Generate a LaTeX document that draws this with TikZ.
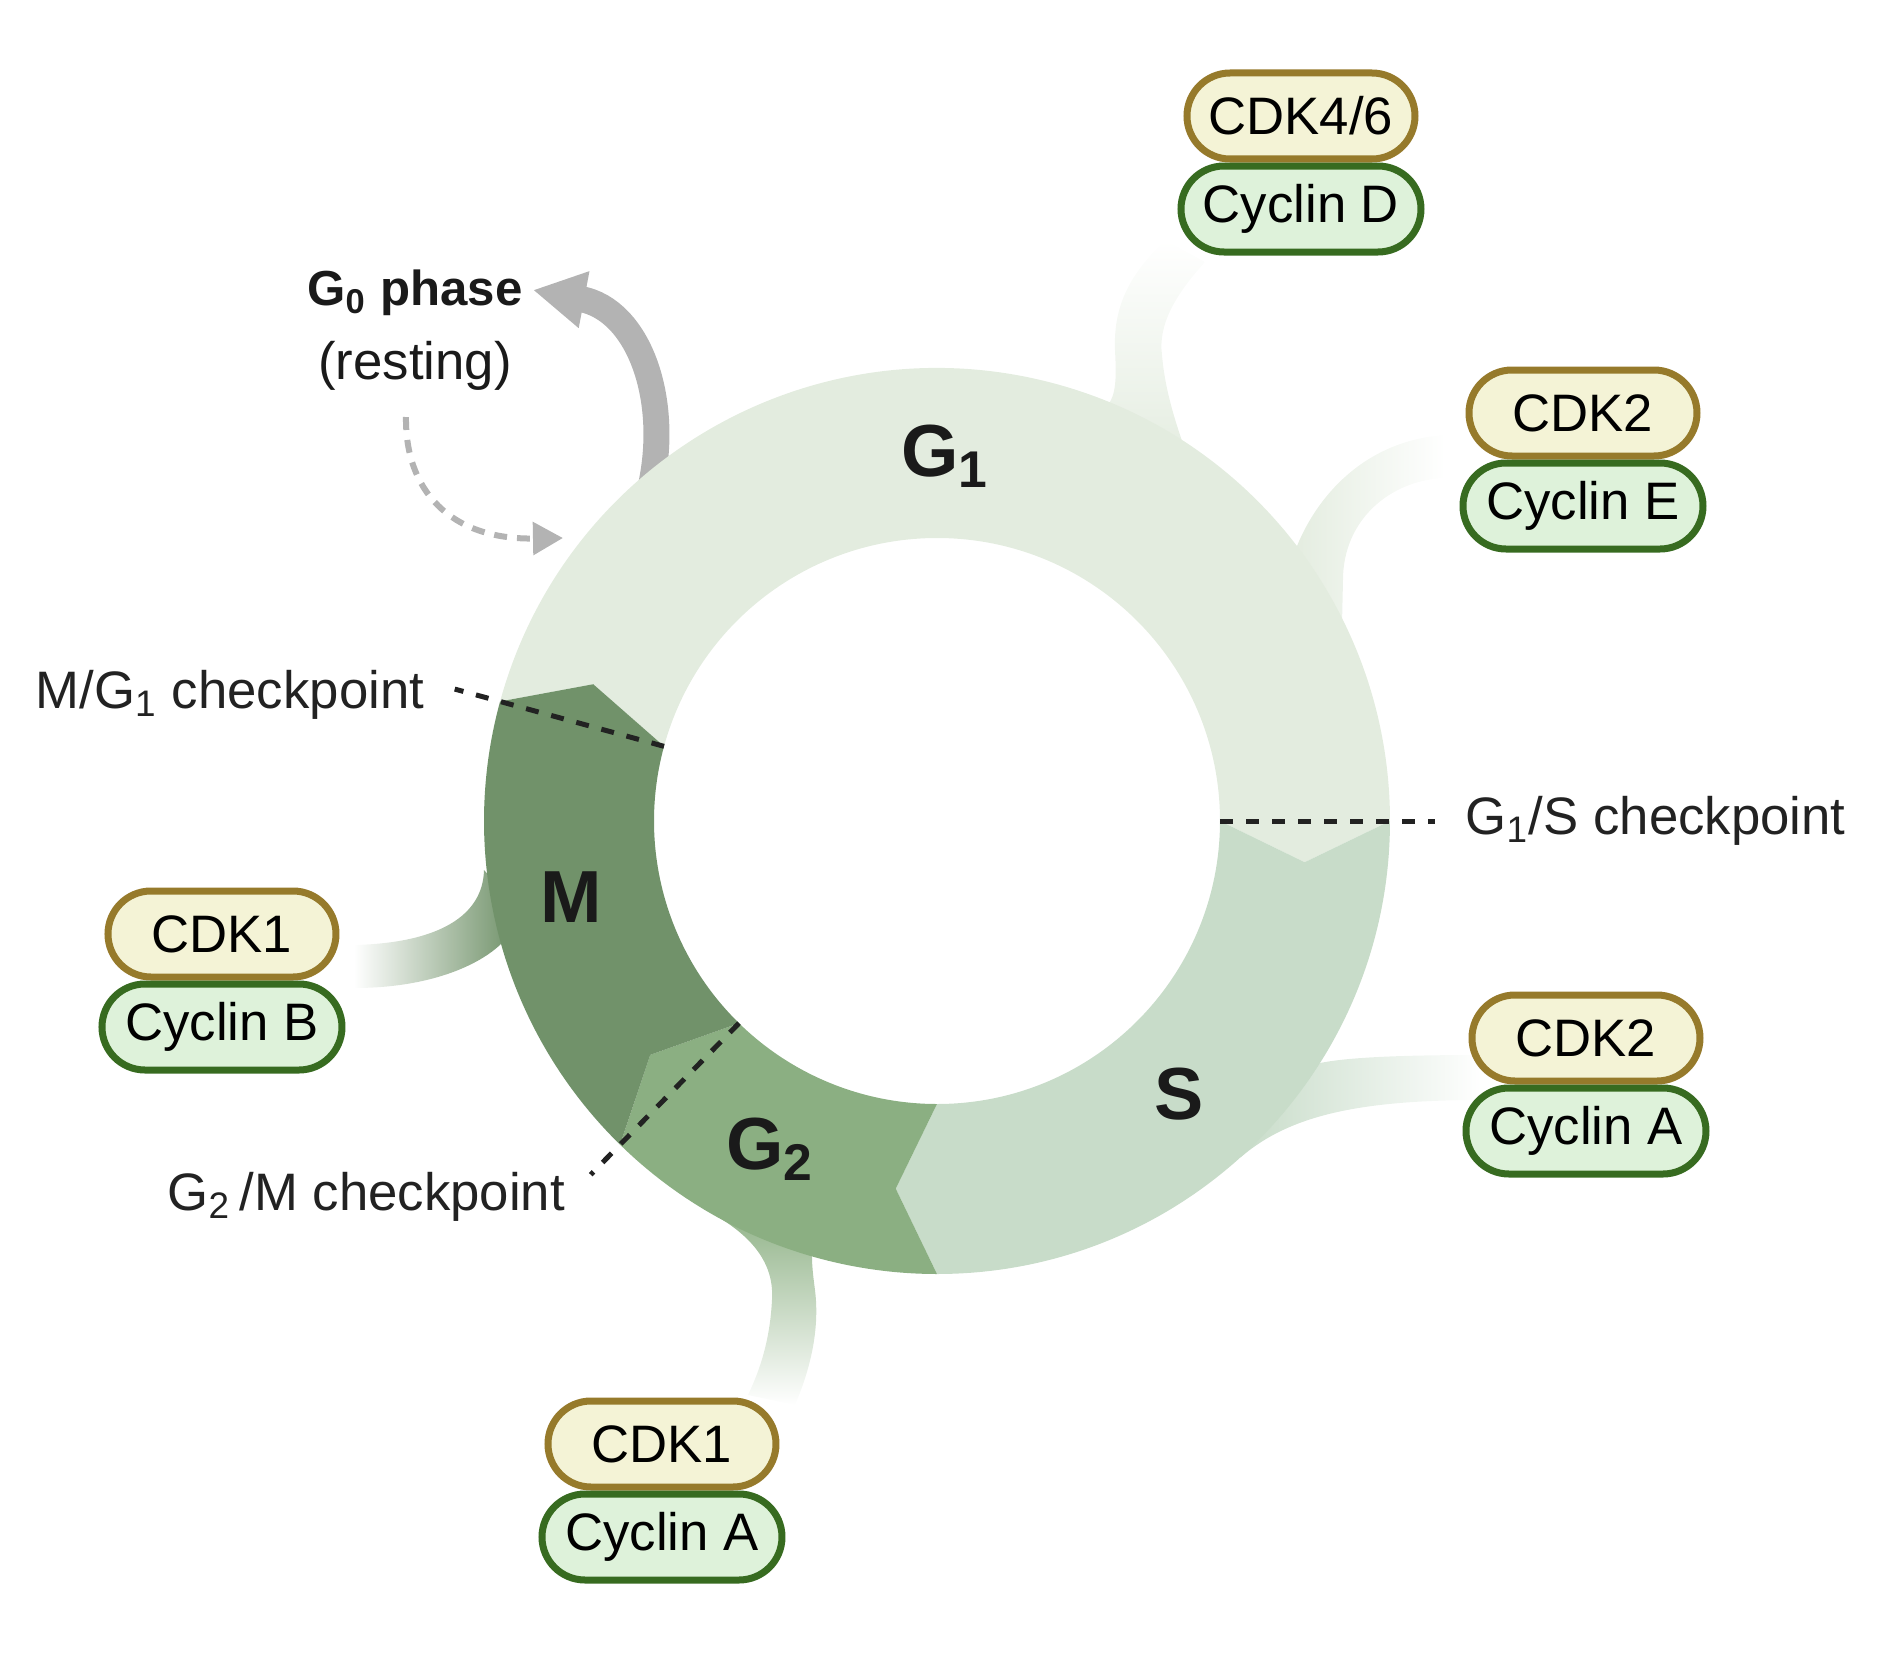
\documentclass[tikz,border=0pt]{standalone}
\usepackage{fontspec}
\setmainfont{Liberation Sans}
\usetikzlibrary{arrows.meta, positioning}

\definecolor{gonecol}{HTML}{E3ECDF}
\definecolor{scol}{HTML}{C8DCC9}
\definecolor{gtwocol}{HTML}{8BAF82}
\definecolor{mcol}{HTML}{71926A}
\definecolor{arrowgray}{HTML}{B3B3B3}
\definecolor{cdkfill}{HTML}{F4F3D6}
\definecolor{cdkline}{HTML}{967A2B}
\definecolor{cycfill}{HTML}{DEF2DA}
\definecolor{cycline}{HTML}{376B20}
\definecolor{labelcol}{HTML}{1A1A1A}
\definecolor{ckptcol}{HTML}{222222}

\begin{document}
\begin{tikzpicture}[
  cdkbox/.style={rectangle, draw=cdkline, fill=cdkfill, line width=0.07cm,
                 rounded corners=0.43cm, minimum width=2.28cm, minimum height=0.86cm,
                 inner sep=0pt, font=\fontsize{15}{18}\selectfont},
  cycbox/.style={cdkbox, draw=cycline, fill=cycfill, minimum width=2.40cm},
  phase/.style={font=\fontsize{21}{25}\selectfont\bfseries, text=labelcol},
  ckpt/.style={font=\fontsize{15}{18}\selectfont, text=ckptcol, inner sep=0pt},
  ckline/.style={draw=ckptcol, line width=0.05cm, dash pattern=on 0.13cm off 0.13cm}
]
\useasboundingbox (-9.37,-8.35) rectangle (9.59,8.21);

% branch to CDK4/6 - Cyclin D
\shade[top color=white, middle color=gonecol, bottom color=gonecol]
  (1.58,4.01) -- (1.73,4.19) .. controls (1.80,4.31) and (1.79,4.51) .. (1.78,4.71)
  .. controls (1.76,5.21) and (1.98,5.51) .. (2.28,5.81) -- (2.68,5.59)
  .. controls (2.38,5.26) and (2.21,4.96) .. (2.25,4.66)
  .. controls (2.28,4.31) and (2.38,4.01) .. (2.46,3.77) -- (2.13,3.51) -- cycle;

% branch to CDK2 - Cyclin E
\shade[left color=gonecol, middle color=gonecol, right color=white]
  (3.53,2.61) -- (3.60,2.75) .. controls (3.83,3.31) and (4.33,3.81) .. (5.08,3.86)
  -- (5.08,3.43) .. controls (4.53,3.41) and (4.06,3.01) .. (4.06,2.41)
  -- (4.05,1.96) -- (3.83,2.01) -- cycle;

% branch to CDK2 - Cyclin A
\shade[left color=scol, middle color=scol, right color=white]
  (3.53,-2.79) -- (3.83,-2.42) .. controls (4.08,-2.37) and (4.53,-2.34) .. (5.45,-2.34)
  -- (5.45,-2.79) .. controls (4.23,-2.79) and (3.53,-2.94) .. (3.04,-3.36)
  -- (3.13,-3.09) -- cycle;

% branch to CDK1 - Cyclin A
\shade[top color=gtwocol, middle color=gtwocol, bottom color=white]
  (-2.07,-3.79) -- (-2.33,-3.88) .. controls (-1.97,-4.07) and (-1.62,-4.34) .. (-1.65,-4.79)
  .. controls (-1.67,-5.19) and (-1.77,-5.49) .. (-1.89,-5.74)
  -- (-1.42,-5.84) .. controls (-1.27,-5.49) and (-1.17,-5.09) .. (-1.22,-4.69)
  .. controls (-1.24,-4.54) and (-1.25,-4.44) .. (-1.25,-4.36)
  -- (-1.37,-4.09) -- cycle;

% branch to CDK1 - Cyclin B
\shade[left color=white, middle color=mcol, right color=mcol]
  (-4.27,-0.79) -- (-4.53,-0.49) .. controls (-4.54,-0.94) and (-4.97,-1.22) .. (-5.83,-1.24)
  -- (-5.83,-1.67) .. controls (-5.07,-1.67) and (-4.57,-1.44) .. (-4.35,-1.22)
  -- (-4.22,-1.09) -- cycle;

% exit to G0
\coordinate (gzout) at (-2.87,3.31);
\coordinate (gztip) at (-4.04,5.31);
\draw[arrowgray, line width=0.26cm, -{Triangle[length=0.52cm, width=0.54cm]}]
  (gzout) .. controls (-2.66,4.21) and (-2.98,5.11) .. (gztip);

% phases of the ring
\foreach \a/\b/\col in {164.7/0/gonecol, 0/-90/scol, -90/-134.4/gtwocol, -134.4/-195.3/mcol}
  \fill[\col] (\a:4.53) arc[start angle=\a, end angle=\b, radius=4.53]
    -- ({\b-6.4}:3.70) -- (\b:2.83) arc[start angle=\b, end angle=\a, radius=2.83]
    -- ({\a-6.4}:3.70) -- cycle;

\node[phase] (gone) at (0.08,3.65) {G\textsubscript{1}};
\node[phase] (sph) at (2.42,-2.73) {S};
\node[phase] (mph) at (-3.66,-0.76) {M};
\node[phase] (gtwo) at (-1.67,-3.28) {G\textsubscript{2}};

% checkpoints
\coordinate (mgin) at (164.7:2.83);
\coordinate (mgout) at (164.7:5.0);
\draw[ckline] (mgin) -- (mgout);
\node[ckpt, left=0.3cm of mgout, yshift=-0.06cm] (mglab) {M/G\textsubscript{1} checkpoint};

\coordinate (gsin) at (0:2.83);
\coordinate (gsout) at (0:4.98);
\draw[ckline] (gsin) -- (gsout);
\node[ckpt, right=0.3cm of gsout] (gslab) {G\textsubscript{1}/S checkpoint};

\coordinate (gmin) at (-134.4:2.83);
\coordinate (gmout) at (-134.4:4.95);
\draw[ckline] (gmin) -- (gmout);
\node[ckpt, left=0.25cm of gmout, yshift=-0.22cm] (gmlab) {G\textsubscript{2}\,/M checkpoint};

% G0 phase
\node[font=\fontsize{15}{21}\selectfont, text=labelcol, align=center] (gzero) at (-5.22,4.91)
  {{\fontsize{14}{21}\selectfont\bfseries G\textsubscript{0} phase}\\(resting)};
\coordinate (gzback) at (-5.31,4.04);
\coordinate (gzin) at (-3.74,2.83);
\draw[arrowgray, line width=0.06cm, dash pattern=on 0.13cm off 0.1cm,
      -{Triangle[length=0.3cm, width=0.32cm]}]
  (gzback) .. controls (-5.32,3.31) and (-4.87,2.81) .. (gzin);

% CDK / cyclin pairs
\node[cdkbox] (cdkd) at (3.64,7.05) {CDK4/6};
\node[cycbox, below=0cm of cdkd] (cycd) {Cyclin D};

\node[cdkbox] (cdke) at (6.46,4.08) {CDK2};
\node[cycbox, below=0cm of cdke] (cyce) {Cyclin E};

\node[cdkbox] (cdka) at (6.49,-2.17) {CDK2};
\node[cycbox, below=0cm of cdka] (cyca) {Cyclin A};

\node[cdkbox] (cdkb) at (-7.15,-1.13) {CDK1};
\node[cycbox, below=0cm of cdkb] (cycb) {Cyclin B};

\node[cdkbox] (cdkab) at (-2.75,-6.23) {CDK1};
\node[cycbox, below=0cm of cdkab] (cycab) {Cyclin A};

\end{tikzpicture}
\end{document}
